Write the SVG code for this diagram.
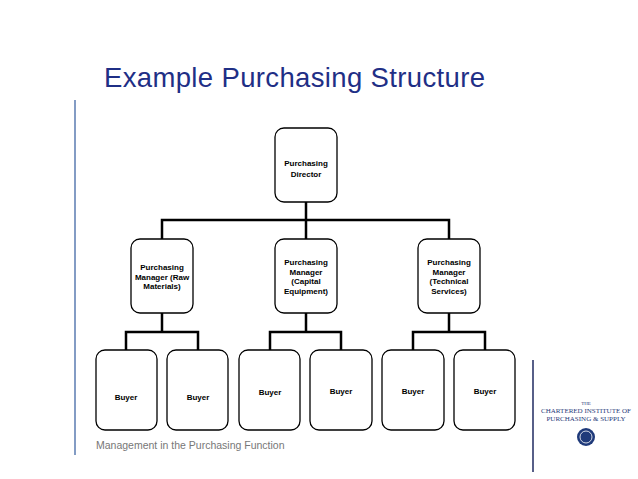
<svg xmlns="http://www.w3.org/2000/svg" width="638" height="479" viewBox="0 0 638 479">
<style>
.n rect{fill:#fff;stroke:#000;stroke-width:1.3}
.n text{font-family:"Liberation Sans",Arial,sans-serif;font-size:8px;font-weight:bold;text-anchor:middle;fill:#000}
#conn path{fill:none;stroke:#000;stroke-width:2.5}
.logo{font-family:"Liberation Serif",serif;fill:#1f3a7a;text-anchor:middle}
</style>
<rect width="638" height="479" fill="#fff"/>
<text x="104" y="87" font-family="Liberation Sans,Arial,sans-serif" font-size="27.5" fill="#1f2f86" textLength="381">Example Purchasing Structure</text>
<line x1="75" y1="100" x2="75" y2="455" stroke="#5a7bb0" stroke-width="1.5"/>
<line x1="533" y1="360" x2="533" y2="472" stroke="#1f2a60" stroke-width="1.5"/>
<text x="96" y="449" font-family="Liberation Sans,Arial,sans-serif" font-size="10.5" fill="#777">Management in the Purchasing Function</text>
<g id="conn">
<path d="M306 202V220M162 239V220H449V239M306 220V239"/>
<path d="M162 313V332M126 350V332H198V350"/>
<path d="M306 313V332M270 350V332H341V350"/>
<path d="M449 313V332M413 350V332H485V350"/>
</g>
<g id="director" class="n"><rect x="275" y="128" width="62" height="74" rx="9"/><text x="306" y="166">Purchasing</text><text x="306" y="177">Director</text></g>
<g id="mgr1" class="n"><rect x="131" y="239" width="62" height="74" rx="9"/><text x="162" y="270">Purchasing</text><text x="162" y="280">Manager (Raw</text><text x="162" y="289">Materials)</text></g>
<g id="mgr2" class="n"><rect x="275" y="239" width="62" height="74" rx="9"/><text x="306" y="265">Purchasing</text><text x="306" y="275">Manager</text><text x="306" y="284">(Capital</text><text x="306" y="294">Equipment)</text></g>
<g id="mgr3" class="n"><rect x="418" y="239" width="62" height="74" rx="9"/><text x="449" y="265">Purchasing</text><text x="449" y="275">Manager</text><text x="449" y="284">(Technical</text><text x="449" y="294">Services)</text></g>
<g id="b1" class="n"><rect x="96" y="350" width="61" height="80" rx="9"/><text x="126" y="400">Buyer</text></g>
<g id="b2" class="n"><rect x="167" y="350" width="61" height="80" rx="9"/><text x="198" y="400">Buyer</text></g>
<g id="b3" class="n"><rect x="239" y="350" width="61" height="80" rx="9"/><text x="270" y="395">Buyer</text></g>
<g id="b4" class="n"><rect x="310" y="350" width="62" height="80" rx="9"/><text x="341" y="394">Buyer</text></g>
<g id="b5" class="n"><rect x="382" y="350" width="62" height="80" rx="9"/><text x="413" y="394">Buyer</text></g>
<g id="b6" class="n"><rect x="454" y="350" width="61" height="80" rx="9"/><text x="485" y="394">Buyer</text></g>
<text class="logo" x="586" y="405" font-size="5">THE</text>
<text class="logo" x="586" y="413" font-size="7">CHARTERED INSTITUTE OF</text>
<text class="logo" x="586" y="421" font-size="7">PURCHASING &amp; SUPPLY</text>
<circle cx="586" cy="437" r="9" fill="#1f3a7a"/>
<circle cx="586" cy="437" r="6" fill="none" stroke="#fff" stroke-width="0.8"/>
</svg>
